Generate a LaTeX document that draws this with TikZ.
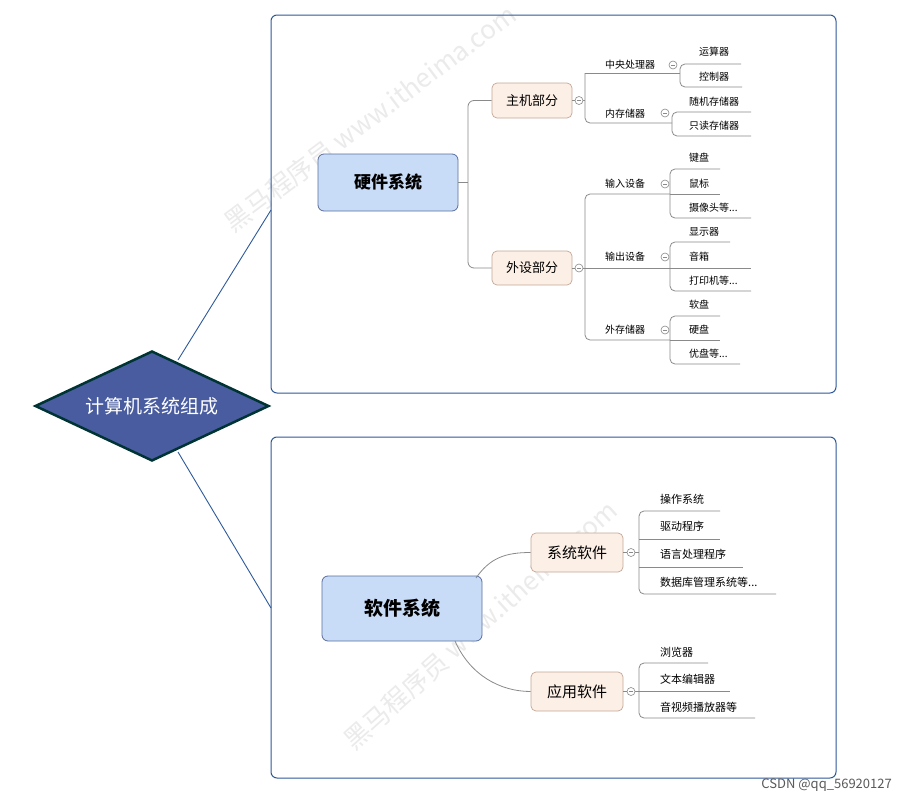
\documentclass[tikz,border=0pt]{standalone}
\usepackage{fontspec}
\setmainfont{Noto Sans CJK SC}
\usetikzlibrary{shapes.geometric}
\definecolor{frameb}{HTML}{2F5A9A}
\definecolor{topfill}{HTML}{C9DCF7}
\definecolor{topdraw}{HTML}{5A6E9E}
\definecolor{midfill}{HTML}{FCEFE6}
\definecolor{middraw}{HTML}{C4A898}
\definecolor{lnk}{HTML}{8A8A8A}
\begin{document}
\begin{tikzpicture}[x=1pt,y=-1pt,
  frame/.style={draw=frameb,line width=1pt,rounded corners=6pt},
  topbox/.style={draw=topdraw,fill=topfill,rounded corners=6pt,line width=0.8pt},
  midbox/.style={draw=middraw,fill=midfill,rounded corners=5pt,line width=0.7pt},
  lk/.style={draw=lnk,line width=0.8pt},
  lab/.style={anchor=west,inner sep=0pt,font=\fontsize{10}{12}\selectfont},
  slab/.style={anchor=west,inner sep=0pt,font=\fontsize{11}{13}\selectfont},
  tog/.style={circle,draw=lnk,fill=white,inner sep=0pt,minimum size=8pt,line width=0.6pt,
    path picture={\draw[lnk,line width=0.6pt] ([xshift=-2pt]path picture bounding box.center) -- ([xshift=2pt]path picture bounding box.center);}},
  wm/.style={text=gray!16,font=\fontsize{26}{30}\selectfont,inner sep=0pt}]
\useasboundingbox (0,0) rectangle (906,803);
\fill[white] (0,0) rectangle (906,803);
\begin{scope}
\clip (0,0) rectangle (906,803);
\node[wm,rotate=37] (wm1) at (370,118) {黑马程序员 www.itheima.com};
\node[wm,rotate=42] (wm2) at (480,625) {黑马程序员 www.itheima.com};
\end{scope}
\draw[frame] (271,15) rectangle (836,393);
\draw[frame] (271,437) rectangle (836,778);
\node[diamond,draw=black!60!teal,line width=2.5pt,fill=frameb!75!blue!60!gray,minimum width=234pt,minimum height=110pt,inner sep=0pt,aspect=2.1,text=white,font=\fontsize{19}{22}\selectfont] (root) at (152,406) {计算机系统组成};
\coordinate (f1) at (271,210);
\coordinate (f2) at (271,608);
\draw[frameb,line width=0.9pt] (178,360) -- (f1);
\draw[frameb,line width=0.9pt] (178,452) -- (f2);
\node[topbox,minimum width=140pt,minimum height=57pt,font=\fontsize{17}{20}\selectfont\bfseries] (hw) at (388,182.5) {硬件系统};
\node[midbox,minimum width=80pt,minimum height=35pt,font=\fontsize{13}{16}\selectfont] (zj) at (532,100.5) {主机部分};
\node[midbox,minimum width=80pt,minimum height=34pt,font=\fontsize{13}{16}\selectfont] (wsb) at (532,268) {外设部分};
\draw[lk,rounded corners=6pt] (zj.west) -- (468,100.5) -- (468,268) -- (wsb.west);
\draw[lk] (hw.east) -- (468,182.5);
\draw[lk,rounded corners=5pt] (585,73) -- (585,123) -- (672,123);
\draw[lk] (585,73) -- (680,73);
\draw[lk] (zj.east) -- (585,100.5);
\node[tog] (t1) at (579,100.5) {};
\node[lab] (cpu) at (605,65) {中央处理器};
\node[lab] (ram) at (605,114) {内存储器};
\node[tog] (t11) at (673,65) {};
\node[tog] (t12) at (665,113) {};
\draw[lk,rounded corners=5pt] (741,64) -- (680,64) -- (680,87) -- (742,87);
\node[lab] (a1) at (699,52) {运算器};
\node[lab] (a2) at (699,77) {控制器};
\draw[lk,rounded corners=5pt] (751,112) -- (672,112) -- (672,136) -- (751,136);
\node[lab] (b1) at (689,102) {随机存储器};
\node[lab] (b2) at (689,126) {只读存储器};
\draw[lk,rounded corners=5pt] (670,194) -- (585,194) -- (585,340) -- (670,340);
\draw[lk] (wsb.east) -- (670,268);
\node[tog] (t2) at (579,268) {};
\node[lab] (in) at (605,184) {输入设备};
\node[lab] (out) at (605,257) {输出设备};
\node[lab] (ext) at (605,330) {外存储器};
\node[tog] (t21) at (665,184) {};
\node[tog] (t22) at (665,257) {};
\node[tog] (t23) at (665,330) {};
\draw[lk,rounded corners=5pt] (720,169) -- (670,169) -- (670,218) -- (751,218);
\draw[lk] (670,194) -- (720,194);
\node[lab] (c1) at (689,158) {键盘};
\node[lab] (c2) at (689,184) {鼠标};
\node[lab] (c3) at (689,208) {摄像头等...};
\draw[lk,rounded corners=5pt] (730,242) -- (670,242) -- (670,291) -- (751,291);
\draw[lk] (670,268) -- (751,268);
\node[lab] (d1) at (689,232) {显示器};
\node[lab] (d2) at (689,257) {音箱};
\node[lab] (d3) at (689,281) {打印机等...};
\draw[lk,rounded corners=5pt] (720,316) -- (670,316) -- (670,364) -- (740,364);
\draw[lk] (670,340) -- (720,340);
\node[lab] (e1) at (689,305) {软盘};
\node[lab] (e2) at (689,330) {硬盘};
\node[lab] (e3) at (689,354) {优盘等...};
\node[topbox,minimum width=160pt,minimum height=65pt,font=\fontsize{19}{22}\selectfont\bfseries] (sw) at (402,608.5) {软件系统};
\node[midbox,minimum width=92pt,minimum height=39pt,font=\fontsize{15}{18}\selectfont] (xt) at (577,552.5) {系统软件};
\node[midbox,minimum width=92pt,minimum height=39pt,font=\fontsize{15}{18}\selectfont] (yy) at (577,691.5) {应用软件};
\draw[lk] (476,578) .. controls (490,558) and (505,552.5) .. (xt.west);
\draw[lk] (455,641) .. controls (470,675) and (500,691.5) .. (yy.west);
\draw[lk] (xt.east) -- (639,552.5);
\draw[lk] (yy.east) -- (639,691.5);
\node[tog] (t3) at (631,552.5) {};
\node[tog] (t4) at (631,691.5) {};
\draw[lk,rounded corners=5pt] (720,511) -- (639,511) -- (639,594) -- (776,594);
\draw[lk] (639,539) -- (720,539);
\draw[lk] (639,567) -- (743,567);
\node[slab] (s1) at (660,499) {操作系统};
\node[slab] (s2) at (660,526) {驱动程序};
\node[slab] (s3) at (660,554) {语言处理程序};
\node[slab] (s4) at (660,582) {数据库管理系统等...};
\draw[lk,rounded corners=5pt] (708,663) -- (639,663) -- (639,718) -- (755,718);
\draw[lk] (639,691) -- (730,691);
\node[slab] (u1) at (660,652) {浏览器};
\node[slab] (u2) at (660,679) {文本编辑器};
\node[slab] (u3) at (660,707) {音视频播放器等};
\node[anchor=east,inner sep=0pt,text=gray!70!black,font=\fontsize{13}{15}\selectfont] (csdn) at (892,785) {CSDN @qq\_56920127};
\end{tikzpicture}
\end{document}
